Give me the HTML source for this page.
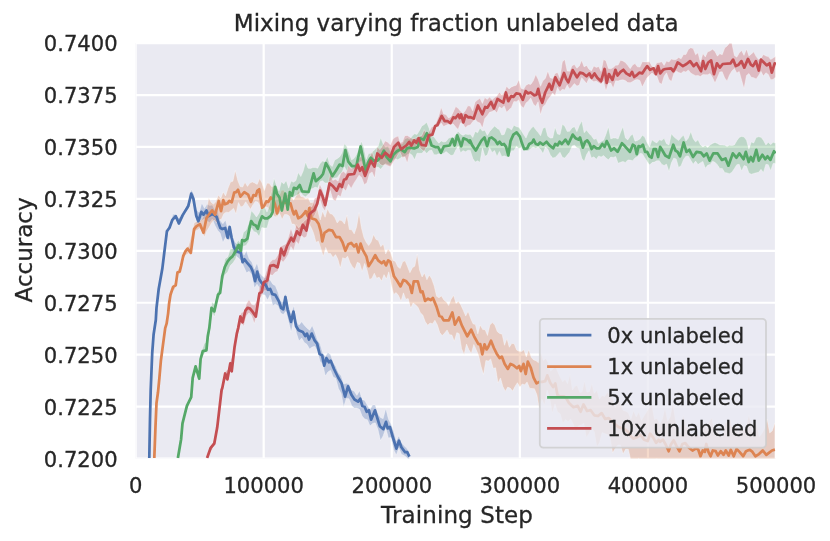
<!DOCTYPE html>
<html lang="en"><head><meta charset="utf-8"><title>Mixing varying fraction unlabeled data</title>
<style>
html,body{margin:0;padding:0;background:#fff;}
body{width:830px;height:541px;overflow:hidden;}
svg{display:block;}
.t{font-family:"DejaVu Sans","Liberation Sans",sans-serif;fill:#262626;stroke:#262626;stroke-width:0.3px;}
</style></head><body>
<svg width="830" height="541" viewBox="0 0 830 541">
<defs><clipPath id="ax"><rect x="135.6" y="43.1" width="640.4" height="415.4"/></clipPath></defs>
<rect x="0" y="0" width="830" height="541" fill="#fff"/>
<rect x="135.6" y="43.1" width="640.4" height="415.4" fill="#EAEAF2"/>
<g clip-path="url(#ax)">
<path d="M135.60 43.1V458.5M263.68 43.1V458.5M391.76 43.1V458.5M519.84 43.1V458.5M647.92 43.1V458.5M776.00 43.1V458.5M135.6 43.10H776.0M135.6 95.03H776.0M135.6 146.95H776.0M135.6 198.87H776.0M135.6 250.80H776.0M135.6 302.73H776.0M135.6 354.65H776.0M135.6 406.57H776.0M135.6 458.50H776.0" stroke="#fff" stroke-width="2.2" fill="none"/>
<path d="M149.3 456.9 L151.9 357.7 L154.5 326.6 L157.2 300.0 L159.8 280.0 L162.4 264.9 L165.1 242.3 L167.7 228.1 L170.3 223.6 L172.9 214.1 L175.6 214.5 L178.2 217.7 L180.8 217.0 L183.4 211.9 L186.1 206.4 L188.7 200.7 L191.3 189.4 L194.0 194.5 L196.6 209.9 L199.2 212.4 L201.8 203.0 L204.5 208.3 L207.1 204.1 L209.7 205.5 L212.3 205.0 L215.0 209.9 L217.6 210.4 L220.2 220.6 L222.9 223.8 L225.5 220.0 L228.1 229.8 L230.7 224.8 L233.4 238.7 L236.0 243.3 L238.6 244.9 L241.2 244.3 L243.9 255.2 L246.5 251.1 L249.1 258.7 L251.8 262.1 L254.4 269.1 L257.0 262.9 L259.6 272.8 L262.3 276.1 L264.9 278.2 L267.5 273.8 L270.1 279.9 L272.8 284.2 L275.4 285.7 L278.0 292.3 L280.7 301.4 L283.3 301.6 L285.9 292.7 L288.5 306.6 L291.2 313.7 L293.8 305.6 L296.4 321.6 L299.0 325.0 L301.7 321.7 L304.3 325.3 L306.9 328.0 L309.6 330.2 L312.2 325.5 L314.8 331.9 L317.4 339.9 L320.1 344.0 L322.7 352.9 L325.3 356.5 L327.9 352.4 L330.6 354.8 L333.2 362.2 L335.8 366.4 L338.5 372.9 L341.1 375.8 L343.7 384.1 L346.3 383.2 L349.0 383.8 L351.6 390.0 L354.2 391.2 L356.9 395.4 L359.5 390.7 L362.1 399.4 L364.7 400.6 L367.4 405.2 L370.0 409.7 L372.6 404.9 L375.2 404.9 L377.9 413.6 L380.5 417.5 L383.1 418.7 L385.8 408.4 L388.4 418.9 L391.0 423.9 L393.6 431.0 L396.3 440.8 L398.9 435.7 L401.5 442.8 L404.1 445.8 L406.8 448.3 L409.4 452.3 L409.4 461.2 L406.8 457.5 L404.1 455.5 L401.5 454.3 L398.9 448.1 L396.3 454.9 L393.6 449.4 L391.0 437.4 L388.4 437.9 L385.8 428.3 L383.1 435.9 L380.5 440.6 L377.9 429.3 L375.2 422.8 L372.6 423.4 L370.0 426.0 L367.4 419.7 L364.7 419.0 L362.1 416.0 L359.5 409.2 L356.9 408.1 L354.2 408.1 L351.6 405.4 L349.0 398.7 L346.3 398.5 L343.7 406.8 L341.1 393.2 L338.5 388.8 L335.8 378.3 L333.2 377.1 L330.6 370.2 L327.9 371.9 L325.3 376.0 L322.7 363.9 L320.1 361.6 L317.4 351.3 L314.8 346.2 L312.2 347.1 L309.6 348.9 L306.9 344.3 L304.3 342.5 L301.7 338.0 L299.0 341.1 L296.4 333.1 L293.8 319.7 L291.2 332.1 L288.5 321.4 L285.9 311.3 L283.3 314.6 L280.7 312.9 L278.0 305.9 L275.4 303.9 L272.8 305.7 L270.1 295.0 L267.5 300.1 L264.9 294.9 L262.3 294.5 L259.6 288.1 L257.0 284.2 L254.4 288.1 L251.8 274.7 L249.1 271.3 L246.5 272.8 L243.9 267.0 L241.2 261.1 L238.6 258.1 L236.0 255.9 L233.4 256.3 L230.7 238.4 L228.1 240.5 L225.5 237.3 L222.9 242.6 L220.2 233.3 L217.6 230.2 L215.0 225.4 L212.3 219.1 L209.7 222.7 L207.1 220.9 L204.5 219.0 L201.8 220.3 L199.2 222.8 L196.6 223.7 L194.0 205.3 L191.3 198.6 L188.7 208.5 L186.1 212.2 L183.4 217.8 L180.8 222.7 L178.2 225.6 L175.6 218.3 L172.9 221.2 L170.3 228.0 L167.7 233.6 L165.1 249.8 L162.4 270.3 L159.8 284.6 L157.2 305.1 L154.5 329.7 L151.9 362.8 L149.3 459.1Z" fill="#4C72B0" fill-opacity="0.3" stroke="#fff" stroke-opacity="0.35" stroke-width="1"/>
<path d="M154.3 456.5 L157.0 398.8 L159.6 373.9 L162.2 348.8 L164.8 329.0 L167.4 316.0 L170.1 295.7 L172.7 285.5 L175.3 281.9 L177.9 269.7 L180.5 264.4 L183.2 253.5 L185.8 248.2 L188.4 246.3 L191.7 234.5 L194.1 223.0 L196.5 221.5 L199.0 221.8 L201.4 219.7 L203.8 215.8 L206.2 212.2 L208.7 197.9 L211.1 202.2 L213.5 204.3 L215.9 201.6 L218.4 195.1 L220.8 198.3 L223.2 191.9 L225.6 195.9 L228.1 188.1 L230.5 182.1 L232.9 181.2 L235.3 170.4 L237.8 180.6 L240.2 186.5 L242.6 187.1 L245.0 182.3 L247.5 186.4 L249.9 183.1 L252.3 181.9 L254.7 183.0 L257.2 184.5 L259.6 178.6 L262.0 182.9 L264.4 190.6 L266.9 183.2 L269.3 183.3 L271.7 186.8 L274.1 186.0 L276.6 186.7 L279.0 196.7 L281.4 190.3 L283.8 190.2 L286.3 195.3 L288.7 193.8 L291.1 195.8 L293.5 200.2 L296.0 195.9 L298.4 190.6 L300.8 196.4 L303.2 197.1 L305.7 198.8 L308.1 198.0 L310.5 202.8 L312.9 202.2 L315.4 206.3 L317.8 210.5 L320.2 220.0 L322.6 211.2 L325.1 217.3 L327.5 208.8 L329.9 213.6 L332.3 214.2 L334.8 217.6 L337.2 223.0 L339.6 220.1 L342.0 220.8 L344.5 224.1 L346.9 215.0 L349.3 229.5 L351.7 229.8 L354.2 233.9 L356.6 226.9 L359.0 212.5 L361.4 227.8 L363.9 237.6 L366.3 242.4 L368.7 245.6 L371.1 242.0 L373.6 234.4 L376.0 239.4 L378.4 240.6 L380.8 246.7 L383.3 243.9 L385.7 254.0 L388.1 248.8 L390.5 252.3 L393.0 260.3 L395.4 261.4 L397.8 266.7 L400.2 268.5 L402.7 261.7 L405.1 260.8 L407.5 266.5 L409.9 272.8 L412.4 267.7 L414.8 266.2 L417.2 254.1 L419.6 270.3 L422.1 277.0 L424.5 273.1 L426.9 279.8 L429.3 275.0 L431.7 278.9 L434.2 286.0 L436.6 296.3 L439.0 297.8 L441.4 295.9 L443.9 300.1 L446.3 301.9 L448.7 305.6 L451.1 299.4 L453.6 295.3 L456.0 303.4 L458.4 301.3 L460.8 304.9 L463.3 310.5 L465.7 316.1 L468.1 311.3 L470.5 318.0 L473.0 323.8 L475.4 324.6 L477.8 333.9 L480.2 325.0 L482.7 329.6 L485.1 329.7 L487.5 335.5 L489.9 324.9 L492.4 322.6 L494.8 325.1 L497.2 331.5 L499.6 333.4 L502.1 334.2 L504.5 345.3 L506.9 338.6 L509.3 347.3 L511.8 343.5 L514.2 343.7 L516.6 350.0 L519.0 351.3 L521.5 351.6 L523.9 349.7 L526.3 357.0 L528.7 349.8 L531.2 357.3 L533.6 359.9 L536.0 360.7 L538.4 362.8 L540.9 353.0 L543.3 360.6 L545.7 358.4 L548.1 362.6 L550.6 371.1 L553.0 368.9 L555.4 365.8 L557.8 371.9 L560.3 377.6 L562.7 381.8 L565.1 379.2 L567.5 383.7 L570.0 374.4 L572.4 390.0 L574.8 386.6 L577.2 385.2 L579.7 392.6 L582.1 391.8 L584.5 381.0 L586.9 392.2 L589.4 391.7 L591.8 383.6 L594.2 393.4 L596.9 390.2 L599.5 399.0 L602.1 395.5 L604.7 396.6 L607.4 392.1 L610.0 396.4 L612.6 398.3 L615.2 407.8 L617.8 398.0 L620.4 403.9 L623.1 410.3 L625.7 411.2 L628.3 412.7 L630.9 419.2 L633.5 410.7 L636.2 416.9 L638.8 412.1 L641.4 420.5 L644.0 416.0 L646.6 412.0 L649.3 407.5 L651.9 405.7 L654.5 419.6 L657.1 418.4 L659.7 424.1 L662.3 419.5 L665.0 408.1 L667.6 421.3 L670.2 416.9 L672.8 403.4 L675.4 419.9 L678.1 431.9 L680.7 432.7 L683.3 414.8 L685.9 427.2 L688.5 427.3 L691.1 433.9 L693.8 433.2 L696.4 432.6 L699.0 436.2 L701.6 437.5 L704.2 422.7 L706.9 429.1 L709.5 421.0 L712.1 418.1 L714.7 434.9 L717.3 429.9 L720.0 435.7 L722.6 437.3 L725.2 423.1 L727.8 421.6 L730.4 419.5 L733.0 432.5 L735.7 425.1 L738.3 433.6 L740.9 421.4 L743.5 430.7 L746.1 427.7 L748.8 415.0 L751.4 425.4 L754.0 437.2 L756.6 423.6 L759.2 436.8 L761.8 433.7 L764.5 428.7 L767.1 419.0 L769.7 433.0 L772.3 430.8 L774.9 422.8 L774.9 468.0 L772.3 469.2 L769.7 476.6 L767.1 489.6 L764.5 495.8 L761.8 469.5 L759.2 472.6 L756.6 477.1 L754.0 471.8 L751.4 471.7 L748.8 500.1 L746.1 487.1 L743.5 493.3 L740.9 471.2 L738.3 473.0 L735.7 484.1 L733.0 491.7 L730.4 476.8 L727.8 486.4 L725.2 478.2 L722.6 475.1 L720.0 474.0 L717.3 484.7 L714.7 483.2 L712.1 470.0 L709.5 476.1 L706.9 463.9 L704.2 495.3 L701.6 473.5 L699.0 470.6 L696.4 468.7 L693.8 471.3 L691.1 467.5 L688.5 464.1 L685.9 463.6 L683.3 469.6 L680.7 469.0 L678.1 466.9 L675.4 465.2 L672.8 473.6 L670.2 466.6 L667.6 465.0 L665.0 477.1 L662.3 471.9 L659.7 461.0 L657.1 458.7 L654.5 459.5 L651.9 460.5 L649.3 470.1 L646.6 473.1 L644.0 467.1 L641.4 468.8 L638.8 457.9 L636.2 468.1 L633.5 467.4 L630.9 460.5 L628.3 449.2 L625.7 449.1 L623.1 453.8 L620.4 444.9 L617.8 444.9 L615.2 448.4 L612.6 452.8 L610.0 437.0 L607.4 434.6 L604.7 433.6 L602.1 432.5 L599.5 442.5 L596.9 446.9 L594.3 431.7 L591.6 428.0 L589.0 433.4 L586.4 437.4 L583.8 423.3 L581.2 425.1 L578.6 425.7 L575.9 432.3 L573.3 424.0 L570.7 419.1 L568.1 421.5 L565.5 419.6 L562.8 423.2 L560.2 413.7 L557.6 412.0 L555.0 403.8 L552.4 413.0 L549.7 398.3 L547.1 390.1 L544.5 405.3 L541.9 398.8 L539.3 408.5 L536.9 394.7 L534.4 388.7 L532.0 388.6 L529.6 388.2 L527.1 381.9 L524.7 384.8 L522.3 383.9 L519.9 387.1 L517.4 382.7 L515.0 386.5 L512.6 391.1 L510.2 388.1 L507.7 387.1 L505.3 391.2 L502.9 386.5 L500.5 377.9 L498.0 383.0 L495.6 367.8 L493.2 368.2 L490.7 358.9 L488.3 361.1 L485.9 360.4 L483.5 374.5 L481.0 366.2 L478.6 355.3 L476.2 349.7 L473.8 344.4 L471.3 353.4 L468.9 349.8 L466.5 344.1 L464.1 354.5 L461.6 348.7 L459.2 333.7 L456.8 332.6 L454.3 341.3 L451.9 335.0 L449.5 334.7 L447.1 329.9 L444.6 333.1 L442.2 335.6 L439.8 332.6 L437.4 325.0 L434.9 320.2 L432.5 323.8 L430.1 323.0 L427.7 325.2 L425.2 321.6 L422.8 315.0 L420.4 312.7 L418.0 307.3 L415.5 304.7 L413.1 302.9 L410.7 308.0 L408.2 298.5 L405.8 299.2 L403.4 292.8 L401.0 301.1 L398.5 295.6 L396.1 292.5 L393.7 294.4 L391.3 284.5 L388.8 271.8 L386.4 279.0 L384.0 274.6 L381.6 281.1 L379.1 277.1 L376.7 278.3 L374.3 273.2 L371.8 278.4 L369.4 279.4 L367.0 269.7 L364.6 263.4 L362.1 271.6 L359.7 263.3 L357.3 262.3 L354.9 269.2 L352.4 266.7 L350.0 262.4 L347.6 256.2 L345.2 258.8 L342.7 257.7 L340.3 268.1 L337.9 259.2 L335.5 254.6 L333.0 257.6 L330.6 253.6 L328.2 253.6 L325.7 247.4 L323.3 256.4 L320.9 248.5 L318.5 241.2 L316.0 242.2 L313.6 233.2 L311.2 227.5 L308.8 223.4 L306.3 226.5 L303.9 227.9 L301.5 230.5 L299.1 231.3 L296.6 228.8 L294.2 224.1 L291.8 224.1 L289.3 216.1 L286.9 214.4 L284.5 214.4 L282.1 219.5 L279.6 213.3 L277.2 216.6 L274.8 216.8 L272.4 213.8 L269.9 210.6 L267.5 207.3 L265.1 206.4 L262.7 208.9 L260.2 206.1 L257.8 202.0 L255.4 201.4 L253.0 204.7 L250.5 209.3 L248.1 205.4 L245.7 201.8 L243.2 206.0 L240.8 206.9 L238.4 202.5 L236.0 214.0 L233.5 208.3 L231.1 210.4 L228.7 212.5 L226.3 212.2 L223.8 213.7 L221.4 219.3 L219.0 220.0 L216.6 223.0 L214.1 220.0 L211.7 222.7 L209.3 227.0 L206.8 231.1 L204.4 237.2 L202.0 230.1 L199.6 228.5 L197.1 230.3 L194.7 231.2 L192.3 243.0 L188.4 253.7 L185.8 254.9 L183.2 260.2 L180.5 270.5 L177.9 275.4 L175.3 288.8 L172.7 291.4 L170.1 299.2 L167.4 322.2 L164.8 332.6 L162.2 351.8 L159.6 377.2 L157.0 401.2 L154.3 459.0Z" fill="#DD8452" fill-opacity="0.3" stroke="#fff" stroke-opacity="0.35" stroke-width="1"/>
<path d="M177.9 456.9 L180.5 441.1 L183.2 417.6 L185.8 408.8 L188.4 400.9 L191.0 393.4 L193.6 369.8 L196.3 364.9 L198.9 373.5 L201.5 351.9 L204.1 343.7 L206.7 341.6 L209.4 321.0 L212.0 302.1 L214.6 304.5 L217.2 292.2 L219.8 288.3 L222.5 270.4 L225.1 258.7 L227.7 256.9 L230.3 249.3 L232.9 248.8 L235.6 244.8 L238.2 240.3 L240.8 243.3 L243.4 232.4 L246.1 229.9 L248.7 223.5 L251.3 210.8 L253.9 213.5 L256.5 217.0 L259.2 212.9 L261.8 205.2 L264.4 206.7 L267.0 212.1 L269.3 205.8 L271.7 190.3 L274.1 178.2 L276.5 185.5 L279.0 190.9 L281.4 181.7 L283.8 184.0 L286.2 180.4 L288.7 188.2 L291.1 181.1 L293.5 182.2 L295.9 180.6 L298.3 172.5 L300.8 176.6 L303.2 171.0 L305.6 162.1 L308.0 168.2 L310.5 168.4 L312.9 167.6 L315.3 167.5 L317.7 168.3 L320.1 163.4 L322.6 161.1 L325.0 161.7 L327.4 156.4 L329.8 164.5 L332.3 166.6 L334.7 160.0 L337.1 158.7 L339.5 156.9 L341.9 153.3 L344.4 143.8 L346.8 146.5 L349.2 153.1 L351.6 159.9 L354.1 158.3 L356.5 154.6 L358.9 148.6 L361.3 141.2 L363.7 147.0 L366.2 159.3 L368.6 153.6 L371.0 153.3 L373.4 151.0 L375.9 148.5 L378.3 146.1 L380.7 137.6 L383.1 143.9 L385.5 147.3 L388.0 146.3 L390.4 151.3 L392.8 148.4 L395.2 147.6 L397.7 144.6 L400.1 144.4 L402.5 143.7 L404.9 138.9 L407.3 137.9 L409.8 139.0 L412.2 136.1 L414.6 133.8 L417.0 134.5 L419.5 130.5 L421.9 125.9 L424.3 124.5 L426.7 122.3 L429.2 128.4 L431.6 135.6 L434.0 136.8 L436.4 140.3 L438.8 143.2 L441.3 140.9 L443.7 142.1 L446.1 141.4 L448.5 138.3 L451.0 137.2 L453.4 138.1 L455.8 133.9 L458.2 131.5 L460.6 133.9 L463.1 135.4 L465.5 134.1 L467.9 134.5 L470.3 134.2 L472.8 137.6 L475.2 131.4 L477.6 132.8 L480.0 127.9 L482.4 131.1 L484.9 130.2 L487.3 135.4 L489.7 131.4 L492.1 128.7 L494.6 125.9 L497.0 128.3 L499.4 129.7 L501.8 135.1 L504.2 134.4 L506.7 127.6 L509.1 128.0 L511.5 129.9 L513.9 125.2 L516.4 126.7 L518.8 127.3 L521.2 130.4 L523.6 134.5 L526.0 138.1 L528.5 132.1 L530.9 128.8 L533.3 126.3 L535.7 129.6 L538.2 132.6 L540.6 135.8 L543.0 128.3 L545.4 127.3 L547.8 136.2 L550.3 138.1 L552.7 138.0 L555.1 127.2 L557.5 134.1 L560.0 134.6 L562.4 124.2 L564.8 126.3 L567.2 131.4 L569.6 131.3 L572.1 127.7 L574.5 126.7 L576.9 131.7 L579.3 125.5 L581.8 120.8 L584.2 132.8 L586.6 130.1 L589.0 133.5 L591.4 135.7 L593.9 139.4 L596.3 138.6 L598.7 143.6 L601.1 141.5 L603.6 140.2 L606.0 134.2 L608.4 126.7 L610.8 138.9 L613.2 138.0 L615.7 138.1 L618.1 139.0 L620.5 132.5 L622.9 126.7 L625.4 137.9 L627.8 139.9 L630.2 136.3 L632.6 133.9 L635.0 141.2 L637.5 140.4 L639.9 139.0 L642.3 135.3 L644.7 137.0 L647.2 142.9 L649.6 147.0 L652.0 139.8 L654.4 141.7 L656.8 142.9 L659.3 139.8 L661.7 140.6 L664.1 138.3 L666.5 143.7 L669.0 144.9 L671.4 133.7 L673.8 136.7 L676.2 138.8 L678.6 140.5 L681.1 137.6 L683.5 135.1 L685.9 141.1 L688.3 138.2 L690.8 131.5 L693.2 138.7 L695.6 142.0 L698.0 139.7 L700.5 144.9 L702.9 146.9 L705.3 145.4 L707.7 147.4 L710.1 145.0 L712.6 143.4 L715.0 142.4 L717.4 143.4 L719.8 144.9 L722.3 145.1 L724.7 145.2 L727.1 146.5 L729.5 145.2 L731.9 145.6 L734.4 144.9 L736.8 140.7 L739.2 137.4 L741.6 136.5 L744.1 137.0 L746.5 140.3 L748.9 149.2 L751.3 141.9 L753.7 143.0 L756.2 137.5 L758.6 136.8 L761.0 137.2 L763.4 140.3 L765.9 145.0 L768.3 142.3 L770.7 144.7 L773.1 142.3 L775.5 143.3 L775.5 163.2 L773.1 163.4 L770.7 170.7 L768.3 164.7 L765.9 164.3 L763.4 172.4 L761.0 169.3 L758.6 172.3 L756.2 172.8 L753.7 173.5 L751.3 174.2 L748.9 173.0 L746.5 166.3 L744.1 165.6 L741.6 171.1 L739.2 164.3 L736.8 164.7 L734.4 168.5 L731.9 172.2 L729.5 173.7 L727.1 172.9 L724.7 172.5 L722.3 168.4 L719.8 168.5 L717.4 164.8 L715.0 162.3 L712.6 161.3 L710.1 164.4 L707.7 165.3 L705.3 168.2 L702.9 161.4 L700.5 162.7 L698.0 164.6 L695.6 161.1 L693.2 164.2 L690.8 160.2 L688.3 155.9 L685.9 156.2 L683.5 159.5 L681.1 165.7 L678.6 167.4 L676.2 158.9 L673.8 158.1 L671.4 162.8 L669.0 171.6 L666.5 164.1 L664.1 165.5 L661.7 164.2 L659.3 160.7 L656.8 160.7 L654.4 162.1 L652.0 162.6 L649.6 165.1 L647.2 161.4 L644.7 157.7 L642.3 153.7 L639.9 153.4 L637.5 156.4 L635.0 157.9 L632.6 160.7 L630.2 160.1 L627.8 159.9 L625.4 162.4 L622.9 161.4 L620.5 162.3 L618.1 163.3 L615.7 156.6 L613.2 157.4 L610.8 157.1 L608.4 159.8 L606.0 158.0 L603.6 155.5 L601.1 157.0 L598.7 155.9 L596.3 159.3 L593.9 156.8 L591.4 158.0 L589.0 150.7 L586.6 154.6 L584.2 161.5 L581.8 158.3 L579.3 148.4 L576.9 147.8 L574.5 145.1 L572.1 145.9 L569.6 152.2 L567.2 155.1 L564.8 158.1 L562.4 157.3 L560.0 152.2 L557.5 155.1 L555.1 157.5 L552.7 158.1 L550.3 154.9 L547.8 149.1 L545.4 147.1 L543.0 153.6 L540.6 149.6 L538.2 147.3 L535.7 148.3 L533.3 147.2 L530.9 148.4 L528.5 150.8 L526.0 151.0 L523.6 150.2 L521.2 147.6 L518.8 148.4 L516.4 146.2 L513.9 150.8 L511.5 150.7 L509.1 156.2 L506.7 156.8 L504.2 155.8 L501.8 156.7 L499.4 151.4 L497.0 156.5 L494.6 150.5 L492.1 152.4 L489.7 147.7 L487.3 155.1 L484.9 156.2 L482.4 147.8 L480.0 162.3 L477.6 160.7 L475.2 162.1 L472.8 158.5 L470.3 150.4 L467.9 150.2 L465.5 151.7 L463.1 150.6 L460.6 152.7 L458.2 146.3 L455.8 149.9 L453.4 155.0 L451.0 155.5 L448.5 153.6 L446.1 151.5 L443.7 153.5 L441.3 153.7 L438.8 153.7 L436.4 154.8 L434.0 154.7 L431.6 150.0 L429.2 150.7 L426.7 153.6 L424.3 150.7 L421.9 153.3 L419.5 153.3 L417.0 153.2 L414.6 159.8 L412.2 155.2 L409.8 153.5 L407.3 154.5 L404.9 156.8 L402.5 156.6 L400.1 158.3 L397.7 159.8 L395.2 158.6 L392.8 160.6 L390.4 165.4 L388.0 164.7 L385.5 163.4 L383.1 166.2 L380.7 169.3 L378.3 167.1 L375.9 167.3 L373.4 168.2 L371.0 164.7 L368.6 166.4 L366.2 170.5 L363.7 167.1 L361.3 161.2 L358.9 162.5 L356.5 168.1 L354.1 169.3 L351.6 169.6 L349.2 166.7 L346.8 171.3 L344.4 166.7 L341.9 172.4 L339.5 174.5 L337.1 177.8 L334.7 178.1 L332.3 178.9 L329.8 181.4 L327.4 182.9 L325.0 183.0 L322.6 180.8 L320.1 181.7 L317.7 188.1 L315.3 187.1 L312.9 188.4 L310.5 189.2 L308.0 194.7 L305.6 196.8 L303.2 195.6 L300.8 192.7 L298.3 194.4 L295.9 195.6 L293.5 197.2 L291.1 197.7 L288.7 202.7 L286.2 204.1 L283.8 205.4 L281.4 209.8 L279.0 213.4 L276.5 215.9 L274.1 207.8 L271.7 217.6 L269.3 219.8 L267.0 228.0 L264.4 228.0 L261.8 227.5 L259.2 236.6 L256.5 232.6 L253.9 231.6 L251.3 228.0 L248.7 241.4 L246.1 245.6 L243.4 246.2 L240.8 257.7 L238.2 250.7 L235.6 259.0 L232.9 263.0 L230.3 265.6 L227.7 272.0 L225.1 274.6 L222.5 281.6 L219.8 296.8 L217.2 301.8 L214.6 317.0 L212.0 311.9 L209.4 335.6 L206.7 349.9 L204.1 353.8 L201.5 360.5 L198.9 382.3 L196.3 372.5 L193.6 376.2 L191.0 399.9 L188.4 406.3 L185.8 413.5 L183.2 422.5 L180.5 443.6 L177.9 459.2Z" fill="#55A868" fill-opacity="0.3" stroke="#fff" stroke-opacity="0.35" stroke-width="1"/>
<path d="M207.1 456.6 L209.7 448.8 L212.4 444.1 L215.0 436.0 L217.6 420.5 L220.2 398.2 L222.8 382.3 L225.5 370.9 L228.1 369.5 L230.7 359.8 L233.3 353.6 L235.9 332.6 L238.5 319.0 L241.2 312.8 L243.8 311.8 L246.4 303.9 L249.0 299.6 L251.6 304.3 L254.3 305.2 L256.9 300.4 L259.5 286.6 L262.1 282.2 L264.7 276.8 L267.4 267.3 L270.0 262.3 L272.6 259.8 L275.2 259.3 L277.8 255.1 L280.4 246.6 L283.1 245.3 L285.7 243.9 L288.3 237.6 L290.9 228.2 L293.5 235.8 L296.2 224.5 L298.8 227.8 L301.4 224.0 L304.0 221.5 L306.6 218.8 L309.3 205.5 L311.9 206.6 L314.5 198.5 L317.1 197.0 L319.7 184.0 L322.4 189.6 L325.0 197.2 L327.6 186.2 L330.2 172.8 L332.8 180.5 L335.4 179.2 L338.1 181.2 L340.7 173.6 L343.3 171.3 L345.9 173.5 L348.5 165.5 L351.2 168.7 L353.8 167.6 L356.4 162.1 L359.0 158.1 L361.6 155.9 L364.3 167.1 L366.9 165.1 L369.5 157.6 L372.1 151.9 L374.7 159.4 L377.3 147.0 L380.0 149.6 L382.6 145.5 L385.2 140.9 L387.8 142.2 L390.4 145.1 L393.1 138.8 L395.7 137.1 L398.3 136.1 L400.0 142.6 L402.4 142.1 L404.8 135.7 L407.3 135.4 L409.7 137.1 L412.1 138.4 L414.5 138.7 L417.0 137.2 L419.4 136.3 L421.8 135.4 L424.2 129.6 L426.7 134.3 L429.1 131.5 L431.5 127.0 L433.9 126.3 L436.3 122.1 L438.8 115.7 L441.2 107.3 L443.6 114.1 L446.0 114.4 L448.5 118.0 L450.9 116.7 L453.3 111.9 L455.7 106.6 L458.1 108.2 L460.6 111.3 L463.0 113.4 L465.4 110.5 L467.8 105.8 L470.3 106.1 L472.7 110.8 L475.1 101.9 L477.5 100.1 L480.0 98.3 L482.4 103.5 L484.8 97.6 L487.2 99.4 L489.6 97.1 L492.1 99.7 L494.5 97.5 L496.9 96.1 L499.3 92.2 L501.8 95.1 L504.2 92.5 L506.6 86.3 L509.0 88.9 L511.5 86.9 L513.9 85.9 L516.3 85.2 L518.7 79.8 L521.1 88.3 L523.6 89.3 L526.0 85.2 L528.4 83.9 L530.8 84.4 L533.3 80.8 L535.7 74.6 L538.1 79.2 L540.5 86.3 L542.9 80.8 L545.4 78.4 L547.8 70.9 L550.2 77.8 L552.6 78.6 L555.1 73.5 L557.5 72.5 L559.9 77.8 L562.3 61.9 L564.8 59.5 L567.2 71.1 L569.6 71.3 L572.0 65.7 L574.4 64.5 L576.9 68.3 L579.3 66.0 L581.7 60.3 L584.1 66.9 L586.6 65.4 L589.0 69.3 L591.4 70.9 L593.8 66.0 L596.3 67.4 L598.7 66.5 L601.1 71.5 L603.5 59.6 L605.9 60.7 L608.4 68.4 L610.8 68.8 L613.2 67.5 L615.6 65.3 L618.1 65.1 L620.5 60.3 L622.9 60.9 L625.3 62.4 L627.7 65.3 L630.2 68.7 L632.6 65.1 L635.0 63.6 L637.4 66.8 L639.9 67.1 L642.3 61.7 L644.7 61.9 L647.1 62.0 L649.6 61.8 L652.0 66.2 L654.4 67.2 L656.8 62.7 L659.2 62.6 L661.7 61.7 L664.1 65.4 L666.5 61.1 L668.9 62.0 L671.4 58.9 L673.8 59.8 L676.2 59.4 L678.6 57.6 L681.1 58.8 L683.5 54.5 L685.9 54.6 L688.3 49.5 L690.7 47.7 L693.2 48.6 L695.6 54.8 L698.0 52.7 L700.4 62.3 L702.9 53.6 L705.3 56.9 L707.7 51.7 L710.1 51.0 L712.5 49.2 L715.0 51.4 L717.4 56.2 L719.8 53.7 L722.2 54.8 L724.7 48.0 L727.1 46.0 L729.5 43.2 L731.9 43.4 L734.4 55.6 L736.8 57.2 L739.2 53.1 L741.6 50.5 L744.0 55.4 L746.5 48.9 L748.9 55.9 L751.3 54.2 L753.7 51.8 L756.2 56.6 L758.6 59.6 L761.0 58.3 L763.4 54.5 L765.9 56.0 L768.3 56.6 L770.7 59.5 L773.1 58.0 L775.5 56.6 L775.5 77.1 L773.1 79.4 L770.7 79.7 L768.3 74.4 L765.9 72.7 L763.4 76.1 L761.0 71.4 L758.6 75.5 L756.2 78.9 L753.7 77.7 L751.3 77.3 L748.9 73.5 L746.5 75.5 L744.0 88.5 L741.6 80.1 L739.2 71.4 L736.8 73.1 L734.4 68.4 L731.9 71.0 L729.5 74.9 L727.1 80.9 L724.7 78.0 L722.2 71.7 L719.8 71.9 L717.4 77.6 L715.0 83.0 L712.5 77.6 L710.1 73.6 L707.7 74.7 L705.3 74.7 L702.9 74.6 L700.4 76.5 L698.0 75.4 L695.6 75.7 L693.2 74.4 L690.7 73.0 L688.3 69.9 L685.9 72.0 L683.5 71.3 L681.1 73.3 L678.6 72.5 L676.2 70.9 L673.8 73.8 L671.4 81.5 L668.9 79.2 L666.5 72.8 L664.1 76.3 L661.7 84.2 L659.2 82.7 L656.8 76.1 L654.4 75.0 L652.0 73.1 L649.6 75.3 L647.1 77.6 L644.7 82.3 L642.3 87.1 L639.9 80.5 L637.4 79.4 L635.0 80.1 L632.6 81.6 L630.2 82.7 L627.7 82.6 L625.3 80.6 L622.9 79.8 L620.5 80.1 L618.1 81.0 L615.6 80.8 L613.2 88.2 L610.8 83.0 L608.4 83.3 L605.9 91.1 L603.5 80.9 L601.1 84.3 L598.7 82.8 L596.3 81.1 L593.8 81.8 L591.4 80.1 L589.0 78.2 L586.6 83.6 L584.1 80.5 L581.7 77.7 L579.3 85.1 L576.9 86.1 L574.4 83.5 L572.0 86.5 L569.6 89.0 L567.2 85.0 L564.8 89.9 L562.3 89.3 L559.9 91.8 L557.5 87.4 L555.1 95.5 L552.6 93.0 L550.2 96.7 L547.8 99.7 L545.4 104.4 L542.9 106.7 L540.5 114.7 L538.1 101.8 L535.7 106.2 L533.3 104.1 L530.8 98.1 L528.4 101.0 L526.0 103.0 L523.6 108.0 L521.1 106.0 L518.7 99.9 L516.3 101.8 L513.9 101.5 L511.5 107.4 L509.0 109.7 L506.6 112.2 L504.2 105.9 L501.8 108.6 L499.3 106.8 L496.9 113.1 L494.5 110.2 L492.1 111.6 L489.6 112.3 L487.2 115.8 L484.8 118.5 L482.4 128.0 L480.0 123.0 L477.5 122.0 L475.1 119.3 L472.7 121.8 L470.3 125.0 L467.8 125.5 L465.4 127.7 L463.0 123.9 L460.6 122.7 L458.1 129.4 L455.7 127.1 L453.3 124.1 L450.9 123.7 L448.5 124.3 L446.0 125.2 L443.6 126.5 L441.2 123.1 L438.8 125.8 L436.3 127.1 L433.9 131.9 L431.5 137.0 L429.1 140.5 L426.7 146.3 L424.2 151.3 L421.8 149.8 L419.4 147.1 L417.0 145.4 L414.5 147.5 L412.1 148.0 L409.7 152.6 L407.3 162.9 L404.8 156.7 L402.4 157.8 L400.0 152.2 L398.3 154.0 L395.7 158.7 L393.1 162.3 L390.4 166.8 L387.8 165.7 L385.2 164.4 L382.6 165.6 L380.0 164.4 L377.3 159.6 L374.7 178.1 L372.1 171.9 L369.5 173.7 L366.9 182.8 L364.3 184.7 L361.6 177.4 L359.0 175.2 L356.4 179.5 L353.8 183.4 L351.2 188.4 L348.5 184.2 L345.9 191.1 L343.3 188.2 L340.7 196.7 L338.1 195.1 L335.4 201.2 L332.8 199.0 L330.2 190.4 L327.6 201.2 L325.0 211.1 L322.4 207.2 L319.7 198.7 L317.1 209.8 L314.5 215.7 L311.9 219.3 L309.3 225.8 L306.6 236.6 L304.0 238.0 L301.4 235.4 L298.8 244.3 L296.2 241.5 L293.5 250.5 L290.9 246.5 L288.3 254.4 L285.7 258.8 L283.1 262.2 L280.4 259.3 L277.8 271.3 L275.2 272.3 L272.6 275.3 L270.0 274.7 L267.4 291.2 L264.7 290.4 L262.1 295.0 L259.5 299.2 L256.9 314.7 L254.3 323.6 L251.6 315.7 L249.0 312.8 L246.4 315.9 L243.8 326.2 L241.2 322.7 L238.5 332.1 L235.9 343.2 L233.3 363.4 L230.7 369.4 L228.1 382.1 L225.5 379.8 L222.8 388.8 L220.2 407.3 L217.6 427.2 L215.0 442.4 L212.4 449.3 L209.7 452.5 L207.1 459.4Z" fill="#C44E52" fill-opacity="0.3" stroke="#fff" stroke-opacity="0.35" stroke-width="1"/>
<path d="M149.3 458.0 L150.0 418.9 L150.7 390.0 L151.2 377.8 L152.2 353.3 L153.6 334.5 L155.8 320.0 L156.5 307.8 L158.7 289.0 L162.3 268.8 L166.9 231.3 L169.5 227.7 L172.4 219.8 L175.7 216.1 L178.9 223.4 L182.5 215.4 L188.3 206.0 L191.2 193.7 L193.4 198.8 L196.3 216.1 L198.4 221.2 L201.3 211.8 L203.5 214.7 L206.4 210.4 L208.6 216.1 L212.2 214.0 L214.2 215.0 L216.6 216.9 L218.5 222.7 L220.4 228.0 L222.3 229.0 L225.2 228.0 L227.7 237.7 L229.6 227.0 L231.5 237.2 L233.9 247.3 L236.8 251.6 L240.7 252.6 L242.6 262.2 L244.5 259.3 L247.4 263.2 L250.8 267.0 L252.9 271.7 L255.1 281.1 L257.2 271.7 L259.4 279.6 L263.0 284.7 L265.2 284.0 L268.1 289.8 L270.2 289.0 L272.4 294.1 L275.3 294.8 L278.9 301.3 L281.1 307.8 L283.3 309.3 L285.4 297.0 L287.6 309.3 L291.0 321.8 L293.5 311.7 L296.0 326.0 L298.6 330.2 L302.8 331.9 L305.3 336.1 L307.0 333.6 L309.0 339.5 L311.7 333.6 L314.6 340.4 L317.1 343.7 L319.6 353.9 L322.2 355.5 L324.2 365.7 L326.4 358.1 L328.9 362.3 L330.6 360.6 L334.0 369.0 L338.2 377.5 L341.6 383.4 L345.1 396.6 L348.0 386.4 L351.6 395.1 L354.5 399.5 L358.1 401.6 L360.2 398.7 L362.4 406.0 L364.6 406.7 L366.7 411.7 L368.9 410.3 L371.1 419.7 L375.0 410.3 L377.6 419.0 L379.8 426.2 L383.4 429.1 L386.0 421.9 L387.7 428.4 L389.9 426.9 L392.8 437.0 L396.4 448.6 L399.0 440.7 L401.4 447.2 L405.1 452.2 L407.2 452.2 L409.4 456.6" fill="none" stroke="#4C72B0" stroke-width="2.75" stroke-linejoin="round" stroke-linecap="butt"/>
<path d="M154.3 458.0 L155.5 426.1 L156.5 403.0 L158.0 392.3 L159.4 377.8 L160.9 360.5 L163.0 344.6 L165.2 328.1 L166.6 323.7 L168.1 313.6 L169.1 303.5 L170.5 294.8 L173.1 286.9 L175.7 285.4 L177.5 272.4 L179.7 271.7 L181.1 265.9 L183.3 255.8 L185.4 251.4 L187.6 248.6 L190.8 252.9 L194.1 229.2 L196.3 226.3 L199.9 224.1 L203.5 232.8 L206.4 218.3 L209.3 214.0 L212.2 210.4 L215.1 214.7 L218.7 201.0 L221.1 211.1 L223.3 200.2 L225.0 204.3 L227.4 203.3 L229.3 200.9 L231.7 202.3 L234.2 192.7 L236.1 192.2 L238.0 189.8 L240.4 196.6 L244.3 192.2 L248.1 194.6 L251.0 201.9 L253.4 195.1 L255.8 195.6 L257.3 190.8 L259.2 189.3 L262.1 207.7 L264.0 206.2 L266.4 201.4 L268.4 201.9 L270.8 197.5 L273.2 199.5 L275.1 204.8 L277.0 213.4 L279.0 207.2 L281.4 203.3 L284.8 201.9 L287.7 204.3 L290.5 203.3 L292.5 210.5 L293.9 214.4 L295.8 211.0 L298.3 218.3 L301.1 216.8 L304.5 213.0 L305.7 211.1 L307.8 216.1 L309.3 208.2 L311.4 218.3 L315.8 219.8 L318.7 224.1 L320.8 231.3 L322.3 241.4 L324.5 232.8 L328.8 229.9 L332.4 230.6 L336.0 237.1 L339.6 237.1 L342.5 242.2 L345.4 250.8 L348.3 244.3 L351.2 242.9 L354.1 246.5 L356.3 244.3 L358.4 252.3 L360.6 243.6 L362.9 250.2 L366.5 256.7 L368.7 266.1 L372.3 260.4 L375.2 255.3 L378.1 260.4 L381.7 263.3 L383.9 261.1 L386.0 265.4 L388.2 260.4 L390.4 261.8 L394.0 276.3 L396.9 280.6 L400.5 286.4 L403.4 279.9 L406.3 281.3 L409.9 285.7 L411.8 292.9 L413.8 281.3 L417.8 281.3 L420.7 292.2 L422.5 291.4 L425.1 300.8 L428.0 298.7 L430.8 300.1 L432.9 298.0 L436.5 306.6 L439.4 316.0 L441.6 316.7 L443.7 320.4 L448.8 320.4 L452.4 312.4 L454.9 324.7 L458.9 317.5 L461.8 325.4 L467.3 336.3 L471.2 329.8 L474.1 336.3 L478.4 344.2 L480.3 344.2 L482.3 354.3 L484.5 344.3 L486.6 349.4 L488.1 347.2 L491.0 340.7 L493.9 348.0 L496.7 353.7 L499.6 358.1 L501.8 356.6 L504.7 363.9 L507.9 368.9 L510.5 363.9 L513.4 365.3 L517.0 368.2 L519.2 366.0 L520.9 371.1 L523.5 363.9 L525.7 374.0 L527.8 361.7 L530.7 367.5 L533.6 377.6 L536.5 383.4 L539.4 381.9 L542.3 381.9 L545.2 381.2 L547.3 375.4 L550.2 382.7 L553.1 387.0 L555.3 383.4 L557.5 394.9 L559.6 396.4 L564.0 396.4 L566.1 398.0 L569.0 403.0 L573.4 407.3 L577.7 405.9 L580.6 411.7 L583.5 404.5 L587.1 411.0 L590.7 410.2 L594.3 415.3 L598.0 416.0 L601.6 413.1 L605.2 418.9 L608.8 418.2 L613.9 423.3 L618.2 426.9 L624.0 429.0 L628.3 431.9 L629.6 434.9 L633.3 438.6 L636.9 437.3 L640.5 434.9 L644.1 439.8 L647.7 441.0 L650.1 433.7 L653.1 437.3 L656.1 442.8 L658.6 439.8 L660.0 441.8 L662.9 439.6 L665.8 444.7 L668.7 451.2 L670.8 444.7 L673.7 440.3 L676.6 446.1 L679.5 451.2 L682.4 444.0 L685.3 443.2 L688.9 447.6 L692.5 450.5 L696.1 448.3 L698.3 449.7 L700.5 456.2 L702.7 450.5 L704.8 451.9 L706.3 444.0 L708.4 451.9 L710.6 456.2 L712.8 450.5 L715.7 451.2 L717.8 455.5 L720.7 451.2 L723.6 454.8 L725.8 450.5 L728.7 455.5 L730.8 449.7 L733.7 456.2 L736.6 449.0 L739.5 451.9 L743.1 456.2 L746.0 451.2 L749.6 449.7 L752.5 451.9 L755.4 456.2 L759.0 454.1 L762.7 450.5 L766.3 454.8 L769.2 452.6 L772.0 450.5 L774.9 449.7" fill="none" stroke="#DD8452" stroke-width="2.75" stroke-linejoin="round" stroke-linecap="butt"/>
<path d="M177.9 458.0 L181.1 439.2 L182.5 423.3 L186.9 405.9 L191.2 397.2 L192.7 377.8 L195.6 366.3 L199.2 378.6 L200.6 359.0 L202.8 351.1 L206.4 350.4 L207.8 335.9 L209.3 328.1 L211.5 307.8 L214.3 311.4 L218.0 294.8 L220.1 292.7 L222.3 276.0 L224.5 268.1 L224.8 267.0 L227.7 261.3 L230.1 258.4 L232.5 256.4 L235.8 250.7 L238.7 244.9 L240.9 250.7 L242.1 240.1 L244.5 241.0 L247.4 238.6 L249.6 227.4 L251.2 221.1 L253.4 224.5 L255.8 225.5 L257.8 228.9 L259.7 222.1 L262.1 216.3 L264.5 218.3 L267.4 218.3 L270.8 215.8 L272.7 212.0 L273.7 196.6 L275.1 186.9 L277.0 193.7 L279.5 197.5 L281.9 210.5 L285.2 193.7 L287.7 209.6 L289.8 192.2 L292.0 195.6 L293.9 187.9 L296.8 188.9 L299.7 185.0 L302.1 191.3 L308.6 192.0 L313.6 173.3 L315.8 181.2 L320.8 176.9 L323.0 174.0 L325.9 163.1 L328.8 168.2 L332.4 176.1 L336.0 170.4 L339.6 164.6 L342.5 166.0 L345.4 150.1 L348.3 161.7 L351.9 166.0 L356.3 166.0 L360.6 146.5 L363.5 160.2 L365.7 171.1 L367.8 163.1 L370.1 158.6 L370.8 157.8 L373.7 160.7 L377.3 160.7 L380.2 157.8 L383.9 150.6 L386.7 157.1 L390.4 161.4 L393.3 154.9 L396.9 151.3 L400.5 149.2 L404.8 152.0 L407.0 148.4 L409.9 147.7 L414.2 148.4 L417.8 147.0 L420.0 138.3 L423.6 139.8 L426.8 133.3 L429.4 139.0 L431.6 145.5 L435.2 147.0 L438.1 147.0 L441.0 152.8 L443.9 146.3 L449.6 145.5 L452.5 139.0 L454.7 145.5 L457.2 135.4 L461.2 146.3 L463.4 138.3 L467.0 139.8 L469.9 142.7 L470.0 140.4 L472.2 145.4 L475.8 150.5 L478.7 145.4 L481.6 140.4 L484.5 137.5 L487.1 146.1 L489.5 138.2 L491.7 137.5 L495.3 140.4 L497.5 144.0 L499.6 141.8 L501.8 144.7 L504.0 144.0 L506.1 146.9 L508.3 155.5 L510.5 141.1 L513.4 134.6 L516.6 132.4 L519.9 136.7 L522.0 143.3 L524.2 149.0 L527.1 148.3 L529.3 144.0 L532.2 142.5 L533.6 139.6 L535.8 144.0 L538.0 144.7 L540.1 142.5 L543.0 144.7 L546.6 141.8 L549.5 145.4 L553.1 148.3 L555.3 144.0 L557.5 145.4 L559.6 141.8 L561.8 144.0 L565.4 139.6 L568.3 144.0 L572.7 134.6 L575.5 138.2 L578.4 139.6 L580.0 137.5 L582.9 147.6 L585.1 141.8 L587.2 140.4 L589.4 143.3 L591.6 149.0 L593.7 146.1 L596.6 148.3 L599.5 148.3 L602.4 144.0 L604.6 146.9 L606.7 141.1 L608.9 145.4 L611.1 150.5 L614.0 148.3 L617.6 151.9 L621.9 143.3 L624.8 146.1 L629.9 151.9 L632.8 144.7 L634.9 146.1 L636.8 154.1 L638.6 146.1 L640.7 146.9 L642.9 144.7 L645.1 151.9 L647.2 151.9 L649.4 156.3 L651.6 157.7 L653.7 149.0 L655.9 149.0 L658.1 157.0 L660.2 146.9 L662.4 150.5 L665.3 155.5 L668.9 157.7 L673.3 144.7 L675.4 150.5 L677.6 151.9 L680.0 156.3 L683.6 142.5 L686.5 151.9 L689.4 149.8 L693.0 157.0 L696.6 151.9 L701.0 152.7 L703.9 156.3 L706.7 153.4 L709.6 160.6 L713.3 153.4 L717.6 153.4 L721.9 159.9 L725.5 158.4 L728.4 165.7 L732.8 153.4 L736.4 157.7 L739.3 153.4 L743.6 159.2 L745.8 151.9 L748.7 162.0 L750.8 157.0 L753.0 161.3 L756.3 149.8 L758.8 160.6 L762.4 154.8 L765.3 159.2 L767.5 156.3 L770.4 159.9 L774.0 151.2 L775.4 153.4" fill="none" stroke="#55A868" stroke-width="2.75" stroke-linejoin="round" stroke-linecap="butt"/>
<path d="M207.1 458.0 L210.7 447.8 L214.3 443.5 L217.2 427.6 L219.4 408.8 L221.6 390.0 L222.3 388.0 L225.2 373.5 L227.4 379.3 L230.3 363.4 L231.7 371.3 L234.6 346.7 L236.8 333.7 L238.2 328.1 L240.4 316.5 L242.5 322.3 L245.4 310.7 L247.6 307.8 L250.0 308.6 L252.9 312.2 L255.8 316.5 L259.4 293.4 L261.6 291.9 L263.7 282.5 L267.3 280.4 L270.2 265.9 L273.9 265.2 L277.5 267.3 L279.6 258.7 L281.1 248.7 L284.0 255.2 L286.9 246.5 L291.2 237.8 L293.4 241.4 L297.0 231.3 L299.9 234.9 L302.8 224.8 L306.4 230.6 L308.6 219.0 L309.3 214.5 L311.4 212.3 L314.3 210.1 L317.2 203.6 L320.1 190.6 L322.3 195.7 L325.2 205.1 L329.5 183.4 L333.1 186.3 L336.7 190.6 L339.6 184.1 L341.8 187.0 L344.0 179.8 L346.1 179.0 L348.3 174.7 L354.1 174.0 L357.7 164.6 L360.0 170.8 L362.2 167.2 L365.1 175.9 L368.0 168.0 L370.8 160.7 L374.5 166.5 L377.3 153.5 L381.7 157.8 L385.3 152.8 L390.4 157.1 L394.0 147.0 L398.3 142.7 L401.2 149.2 L406.3 145.5 L409.2 141.9 L411.3 145.5 L414.2 140.5 L416.4 142.7 L418.6 138.3 L421.4 144.8 L425.8 145.5 L428.7 135.4 L432.3 134.7 L435.2 126.0 L437.3 125.3 L441.7 115.9 L444.6 121.0 L447.5 121.0 L450.4 123.1 L453.3 117.3 L455.4 118.1 L458.3 114.5 L459.8 118.1 L461.2 114.5 L463.4 122.4 L465.5 115.2 L468.4 117.3 L470.0 117.1 L473.6 118.6 L478.0 105.5 L482.3 114.2 L485.2 107.0 L487.3 107.7 L491.0 101.9 L493.9 108.4 L497.5 99.0 L503.3 102.7 L505.9 92.5 L508.3 101.2 L511.2 96.1 L513.4 96.9 L516.3 93.3 L519.9 94.0 L522.8 99.8 L525.7 91.1 L527.8 93.3 L530.7 92.5 L534.3 95.4 L536.5 94.7 L538.2 88.9 L540.1 97.6 L542.3 102.7 L545.2 92.5 L548.1 86.7 L549.2 83.9 L551.7 89.6 L555.3 77.3 L557.5 81.7 L559.6 85.3 L564.0 73.0 L566.1 78.8 L568.3 82.4 L572.7 70.1 L577.0 77.3 L580.0 72.7 L582.9 73.4 L586.5 76.3 L589.4 73.4 L591.6 77.7 L594.5 73.4 L597.3 77.7 L601.0 81.3 L604.6 69.0 L606.7 82.8 L608.9 74.1 L612.5 79.9 L615.4 69.8 L617.6 75.5 L620.5 71.9 L623.4 69.8 L626.3 73.4 L629.9 75.5 L632.0 71.9 L634.2 77.0 L637.1 74.8 L639.3 72.7 L642.2 73.4 L645.1 69.0 L647.2 66.1 L650.1 69.8 L653.7 68.3 L655.9 74.1 L658.1 66.1 L660.2 73.4 L663.1 69.8 L665.3 69.0 L671.1 68.3 L673.3 71.2 L675.4 67.6 L677.6 62.5 L680.0 64.0 L682.9 66.1 L686.5 64.0 L690.1 61.1 L693.7 66.1 L696.6 63.3 L701.0 71.2 L703.1 61.1 L705.3 69.0 L708.2 62.5 L711.1 60.4 L714.0 74.1 L716.9 63.3 L719.8 67.6 L722.7 64.0 L730.6 63.3 L733.1 59.6 L735.7 66.1 L738.6 64.7 L741.4 61.1 L744.3 67.6 L748.0 58.9 L750.8 64.7 L753.0 66.1 L755.9 61.1 L758.8 70.5 L761.0 59.6 L763.9 62.5 L766.7 65.4 L769.6 63.3 L771.8 72.7 L774.7 63.3 L775.4 64.7" fill="none" stroke="#C44E52" stroke-width="2.75" stroke-linejoin="round" stroke-linecap="butt"/>
</g>
<rect x="539.8" y="318.8" width="226.2" height="128.9" rx="3.6" ry="3.6" fill="#EAEAF2" fill-opacity="0.8" stroke="#CCCCCC" stroke-opacity="0.8" stroke-width="1.8"/>
<path d="M547.1 335.2H591.4" stroke="#4C72B0" stroke-width="2.75" fill="none"/>
<text x="607.3" y="343.0" class="t" font-size="21.1" letter-spacing="0.000">0x unlabeled</text>
<path d="M547.1 366.5H591.4" stroke="#DD8452" stroke-width="2.75" fill="none"/>
<text x="607.3" y="374.0" class="t" font-size="21.1" letter-spacing="0.000">1x unlabeled</text>
<path d="M547.1 397.4H591.4" stroke="#55A868" stroke-width="2.75" fill="none"/>
<text x="607.3" y="404.9" class="t" font-size="21.1" letter-spacing="0.000">5x unlabeled</text>
<path d="M547.1 428.4H591.4" stroke="#C44E52" stroke-width="2.75" fill="none"/>
<text x="607.3" y="435.6" class="t" font-size="21.1" letter-spacing="0.000">10x unlabeled</text>
<text x="135.6" y="493.0" class="t" font-size="21.1" text-anchor="middle" letter-spacing="0.000">0</text>
<text x="263.7" y="493.0" class="t" font-size="21.1" text-anchor="middle" letter-spacing="0.000">100000</text>
<text x="391.8" y="493.0" class="t" font-size="21.1" text-anchor="middle" letter-spacing="0.000">200000</text>
<text x="519.8" y="493.0" class="t" font-size="21.1" text-anchor="middle" letter-spacing="0.000">300000</text>
<text x="647.9" y="493.0" class="t" font-size="21.1" text-anchor="middle" letter-spacing="0.000">400000</text>
<text x="776.0" y="493.0" class="t" font-size="21.1" text-anchor="middle" letter-spacing="0.000">500000</text>
<text x="117.6" y="51.3" class="t" font-size="21.1" text-anchor="end" letter-spacing="0.000">0.7400</text>
<text x="117.6" y="103.2" class="t" font-size="21.1" text-anchor="end" letter-spacing="0.000">0.7375</text>
<text x="117.6" y="155.1" class="t" font-size="21.1" text-anchor="end" letter-spacing="0.000">0.7350</text>
<text x="117.6" y="207.1" class="t" font-size="21.1" text-anchor="end" letter-spacing="0.000">0.7325</text>
<text x="117.6" y="259.0" class="t" font-size="21.1" text-anchor="end" letter-spacing="0.000">0.7300</text>
<text x="117.6" y="310.9" class="t" font-size="21.1" text-anchor="end" letter-spacing="0.000">0.7275</text>
<text x="117.6" y="362.8" class="t" font-size="21.1" text-anchor="end" letter-spacing="0.000">0.7250</text>
<text x="117.6" y="414.8" class="t" font-size="21.1" text-anchor="end" letter-spacing="0.000">0.7225</text>
<text x="117.6" y="466.7" class="t" font-size="21.1" text-anchor="end" letter-spacing="0.000">0.7200</text>
<text x="456.2" y="31.4" class="t" font-size="23.0" text-anchor="middle" letter-spacing="0.000">Mixing varying fraction unlabeled data</text>
<text x="457.1" y="522.5" class="t" font-size="23.0" text-anchor="middle" letter-spacing="0.120">Training Step</text>
<text transform="translate(32.0 249.9) rotate(-90)" class="t" font-size="23.0" text-anchor="middle" letter-spacing="0.000">Accuracy</text>
</svg>
</body></html>
